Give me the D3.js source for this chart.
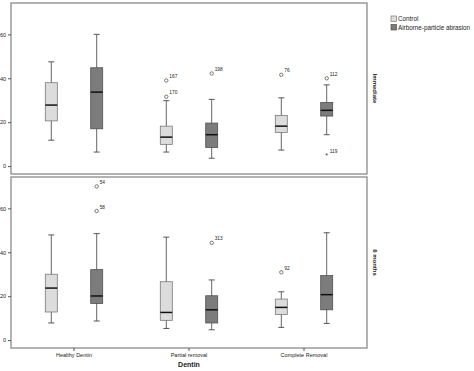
<!DOCTYPE html>
<html>
<head>
<meta charset="utf-8">
<script src="https://cdn.jsdelivr.net/npm/d3@7"></script>
<style>
  body { margin: 0; background: #fff; }
  svg { display: block; font-family: "Liberation Sans", Arial, sans-serif; }
</style>
</head>
<body>
<svg id="chart" width="474" height="371"></svg>
<script>
// categories and groups
var categories = ["Healthy Dentin", "Partial removal", "Complete Removal"];
var groups = ["Control", "Airborne-particle abrasion"];
var panels = ["Immediate", "6 months"];
var yTicks = [0, 20, 40, 60];

// box stats per panel: [low whisker, q1, median, q3, high whisker], order = category x group
var immediateStats = [
  [11.8, 20.6, 27.8, 38.0, 47.5],
  [6.4, 17.0, 33.7, 44.8, 60.0],
  [6.4, 9.9, 13.2, 18.2, 29.8],
  [3.6, 8.5, 14.3, 19.6, 30.4],
  [7.3, 15.3, 18.2, 23.1, 31.1],
  [14.3, 22.8, 25.4, 29.0, 37.0]
];
var monthsStats = [
  [7.8, 12.8, 23.7, 30.0, 47.9],
  [8.7, 16.7, 20.1, 32.1, 48.5],
  [5.3, 9.0, 12.6, 26.6, 46.9],
  [4.7, 7.8, 13.8, 20.2, 27.4],
  [5.8, 11.7, 14.9, 18.7, 22.0],
  [7.6, 13.8, 20.7, 29.4, 48.9]
];
// outliers: [box index, value, case label, extreme?]
var immediateOutliers = [
  [2, 39.0, "167", false],
  [2, 31.6, "170", false],
  [3, 42.2, "198", false],
  [4, 41.6, "76", false],
  [5, 40.0, "112", false],
  [5, 4.9, "119", true]
];
var monthsOutliers = [
  [1, 70.0, "54", false],
  [1, 58.8, "58", false],
  [3, 44.3, "313", false],
  [4, 30.9, "92", false]
];

var statsByPanel = [immediateStats, monthsStats];
var outliersByPanel = [immediateOutliers, monthsOutliers];
var fills = ["#dcdcdc", "#7c7c7c"];
var strokes = ["#7a7a7a", "#505050"];

var svg = d3.select("#chart");
var left = 11, right = 367;
var panelTops = [3, 177], panelHeight = 171;
var boxW = 12, capW = 6;

var x = d3.scaleBand().domain(categories).range([16.5, 361.5]);
var xg = d3.scalePoint().domain(groups).range([-22.7, 22.7]);

function cx(i) {
  var c = categories[Math.floor(i / 2)], g = groups[i % 2];
  return x(c) + x.bandwidth() / 2 + xg(g);
}

panels.forEach(function(name, p) {
  var top = panelTops[p];
  var y = d3.scaleLinear().domain([-3.6, 74.3]).range([top + panelHeight, top]);
  var g = svg.append("g");

  g.append("rect")
    .attr("x", left).attr("y", top)
    .attr("width", right - left).attr("height", panelHeight)
    .attr("fill", "none").attr("stroke", "#8a8a8a").attr("stroke-width", 1.3);

  var ya = g.append("g")
    .attr("transform", "translate(" + left + ",0)")
    .call(d3.axisLeft(y).tickValues(yTicks).tickSize(3).tickPadding(2));
  ya.select(".domain").remove();
  ya.selectAll("line").attr("stroke", "#555");
  ya.selectAll("text").attr("font-size", 5.5).attr("fill", "#222");

  // strip label
  g.append("text")
    .attr("transform", "translate(373," + (top + panelHeight / 2) + ") rotate(90)")
    .attr("text-anchor", "middle")
    .attr("font-size", 6).attr("font-weight", "bold").attr("fill", "#222")
    .text(name);

  var stats = statsByPanel[p];
  var boxes = g.selectAll(".box").data(stats).enter().append("g").attr("class", "box");

  boxes.append("line")
    .attr("x1", function(d, i) { return cx(i); }).attr("x2", function(d, i) { return cx(i); })
    .attr("y1", function(d) { return y(d[0]); }).attr("y2", function(d) { return y(d[4]); })
    .attr("stroke", "#666").attr("stroke-width", 1);
  [0, 4].forEach(function(k) {
    boxes.append("line")
      .attr("x1", function(d, i) { return cx(i) - capW / 2; })
      .attr("x2", function(d, i) { return cx(i) + capW / 2; })
      .attr("y1", function(d) { return y(d[k]); }).attr("y2", function(d) { return y(d[k]); })
      .attr("stroke", "#555").attr("stroke-width", 1);
  });
  boxes.append("rect")
    .attr("x", function(d, i) { return cx(i) - boxW / 2; })
    .attr("y", function(d) { return y(d[3]); })
    .attr("width", boxW)
    .attr("height", function(d) { return y(d[1]) - y(d[3]); })
    .attr("fill", function(d, i) { return fills[i % 2]; })
    .attr("stroke", function(d, i) { return strokes[i % 2]; })
    .attr("stroke-width", 0.8);
  boxes.append("line")
    .attr("x1", function(d, i) { return cx(i) - boxW / 2; })
    .attr("x2", function(d, i) { return cx(i) + boxW / 2; })
    .attr("y1", function(d) { return y(d[2]); }).attr("y2", function(d) { return y(d[2]); })
    .attr("stroke", "#111").attr("stroke-width", 1.5);

  var outs = g.selectAll(".out").data(outliersByPanel[p]).enter().append("g").attr("class", "out");
  outs.filter(function(d) { return !d[3]; }).append("circle")
    .attr("cx", function(d) { return cx(d[0]); })
    .attr("cy", function(d) { return y(d[1]); })
    .attr("r", 1.7).attr("fill", "none").attr("stroke", "#444").attr("stroke-width", 0.7);
  outs.filter(function(d) { return d[3]; }).append("text")
    .attr("x", function(d) { return cx(d[0]); })
    .attr("y", function(d) { return y(d[1]) + 2.5; })
    .attr("text-anchor", "middle").attr("font-size", 7).attr("fill", "#333")
    .text("*");
  outs.append("text")
    .attr("x", function(d) { return cx(d[0]) + 3; })
    .attr("y", function(d) { return y(d[1]) - 2.5; })
    .attr("font-size", 4.8).attr("fill", "#222")
    .text(function(d) { return d[2]; });

  if (p === panels.length - 1) {
    var xa = g.append("g")
      .attr("transform", "translate(0," + (top + panelHeight) + ")")
      .call(d3.axisBottom(x).tickSize(3).tickPadding(2));
    xa.select(".domain").remove();
    xa.selectAll("line").attr("stroke", "#555");
    xa.selectAll("text").attr("font-size", 5.5).attr("fill", "#222");
  }
});

svg.append("text")
  .attr("x", (left + right) / 2).attr("y", 367)
  .attr("text-anchor", "middle")
  .attr("font-size", 7).attr("font-weight", "bold").attr("fill", "#222")
  .text("Dentin");

// legend
var legend = svg.append("g").attr("transform", "translate(391,16)");
groups.forEach(function(gname, i) {
  legend.append("rect")
    .attr("x", 0).attr("y", i * 8.5)
    .attr("width", 5.5).attr("height", 5.5)
    .attr("fill", fills[i]).attr("stroke", strokes[i]).attr("stroke-width", 0.7);
  legend.append("text")
    .attr("x", 7).attr("y", i * 8.5 + 5.3)
    .attr("font-size", 6.3).attr("fill", "#222")
    .text(gname);
});
</script>
</body>
</html>
